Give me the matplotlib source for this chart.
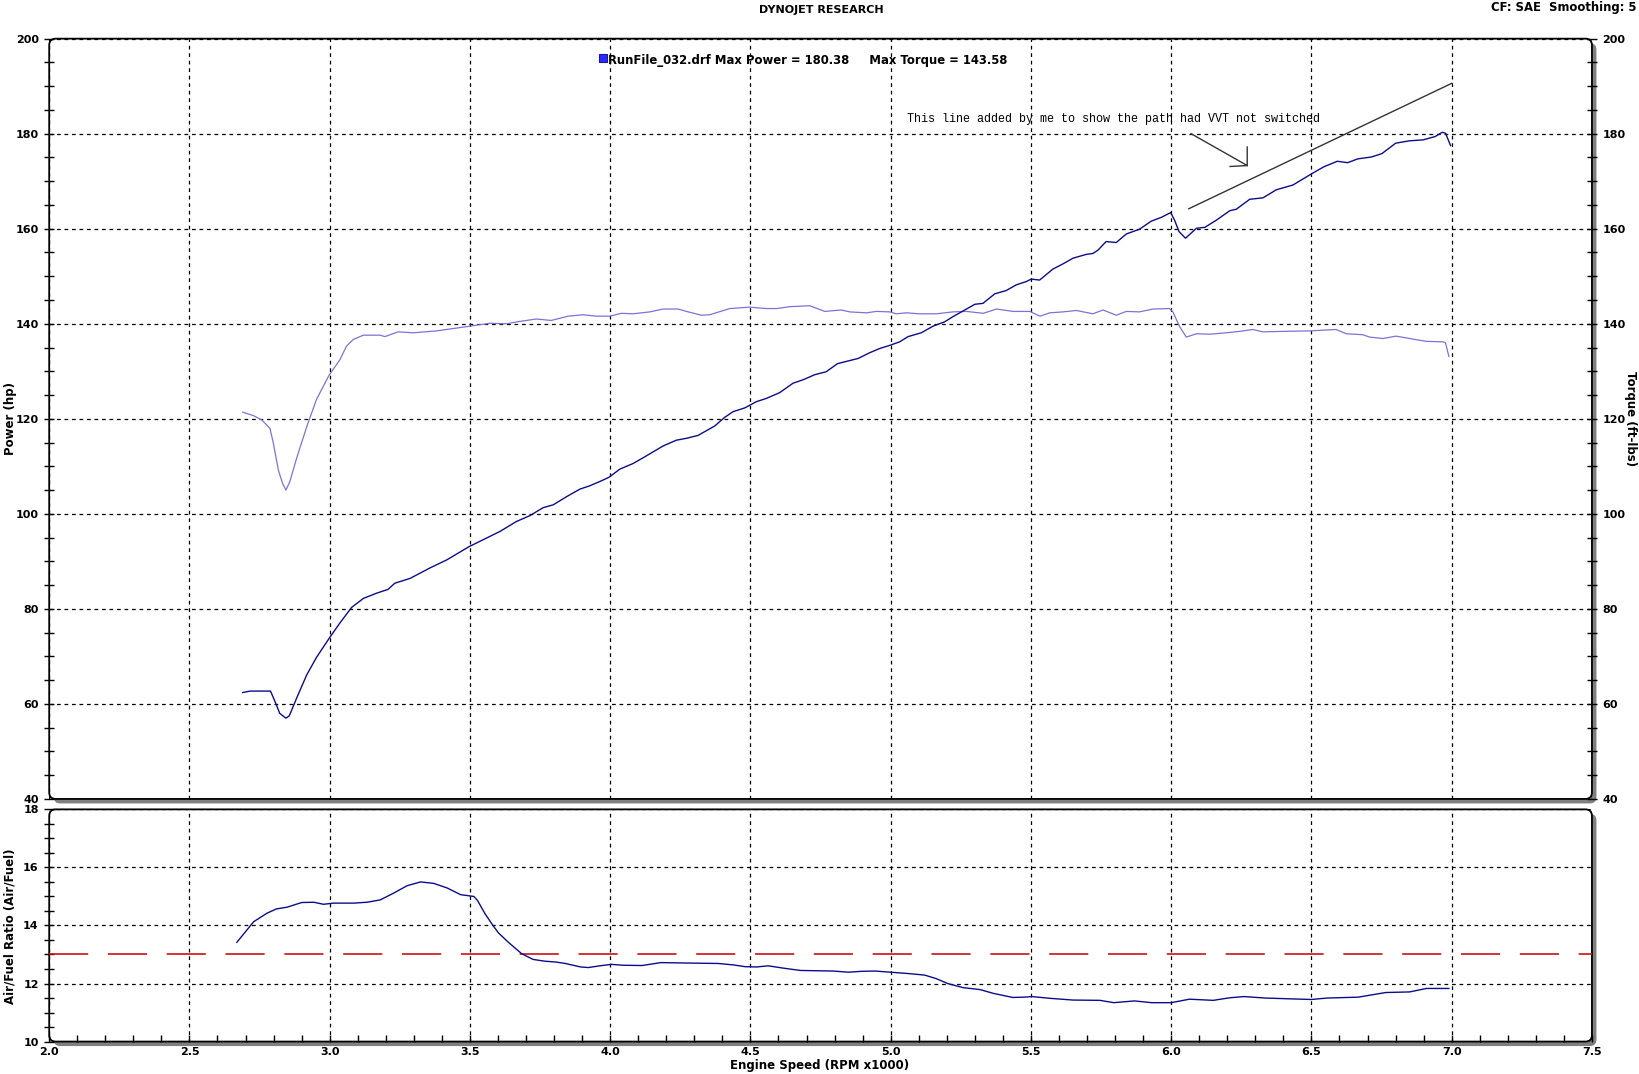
import matplotlib
matplotlib.use("Agg")
import matplotlib.pyplot as plt
from matplotlib.patches import FancyBboxPatch
from matplotlib.ticker import MultipleLocator

# ---------------- data ----------------
power_rpm = [2.69, 2.716, 2.789, 2.805, 2.822, 2.844, 2.856, 2.882, 2.918, 2.953, 2.998, 3.036,
             3.078, 3.12, 3.167, 3.208, 3.232, 3.286, 3.357, 3.417, 3.497, 3.559, 3.607, 3.666,
             3.713, 3.761, 3.797, 3.844, 3.892, 3.927, 3.963, 3.996, 4.034, 4.082, 4.129, 4.189,
             4.236, 4.272, 4.313, 4.373, 4.408, 4.438, 4.48, 4.521, 4.557, 4.604, 4.652, 4.687,
             4.73, 4.77, 4.81, 4.85, 4.884, 4.925, 4.961, 4.999, 5.032, 5.062, 5.109, 5.151,
             5.192, 5.222, 5.264, 5.3, 5.329, 5.371, 5.412, 5.448, 5.484, 5.501, 5.531, 5.578,
             5.614, 5.65, 5.697, 5.721, 5.739, 5.768, 5.804, 5.84, 5.887, 5.929, 5.965, 5.998,
             6.012, 6.028, 6.051, 6.09, 6.12, 6.161, 6.209, 6.232, 6.28, 6.327, 6.375, 6.434,
             6.493, 6.543, 6.592, 6.629, 6.665, 6.714, 6.751, 6.80, 6.849, 6.898, 6.941, 6.966,
             6.978, 6.996]
power_hp = [62.4, 62.7, 62.7, 60.5, 58.0, 57.0, 57.5, 61.2, 66.1, 69.8, 73.8, 77.0,
            80.3, 82.2, 83.3, 84.1, 85.4, 86.4, 88.6, 90.3, 93.1, 94.9, 96.3, 98.4,
            99.6, 101.3, 101.9, 103.6, 105.2, 105.9, 106.8, 107.7, 109.4, 110.6, 112.2, 114.3,
            115.5, 115.9, 116.5, 118.5, 120.3, 121.5, 122.3, 123.6, 124.3, 125.5, 127.5, 128.2,
            129.3, 129.9, 131.6, 132.2, 132.7, 133.9, 134.8, 135.5, 136.2, 137.3, 138.1, 139.5,
            140.4, 141.5, 142.9, 144.1, 144.3, 146.3, 147.0, 148.2, 148.9, 149.4, 149.2, 151.5,
            152.6, 153.8, 154.6, 154.8, 155.5, 157.3, 157.1, 158.9, 159.9, 161.6, 162.4, 163.4,
            161.8, 159.4, 158.0, 160.1, 160.3, 161.8, 163.8, 164.1, 166.2, 166.5, 168.2, 169.2,
            171.3, 173.0, 174.2, 173.9, 174.7, 175.1, 175.8, 178.0, 178.5, 178.7, 179.4, 180.3,
            180.1, 177.5]

torque_rpm = [2.69, 2.727, 2.757, 2.787, 2.799, 2.817, 2.832, 2.844, 2.858, 2.882, 2.918, 2.953,
              2.998, 3.036, 3.06, 3.084, 3.12, 3.18, 3.197, 3.244, 3.298, 3.381, 3.5, 3.571,
              3.63, 3.678, 3.737, 3.79, 3.85, 3.903, 3.951, 3.998, 4.04, 4.082, 4.141, 4.189,
              4.242, 4.272, 4.325, 4.355, 4.426, 4.497, 4.557, 4.593, 4.64, 4.676, 4.711, 4.765,
              4.824, 4.854, 4.913, 4.949, 4.996, 5.02, 5.056, 5.103, 5.163, 5.222, 5.27, 5.33,
              5.377, 5.436, 5.496, 5.532, 5.567, 5.614, 5.662, 5.721, 5.757, 5.804, 5.84, 5.887,
              5.935, 5.994, 6.006, 6.03, 6.054, 6.09, 6.137, 6.196, 6.244, 6.291, 6.327, 6.398,
              6.493, 6.588, 6.624, 6.683, 6.707, 6.755, 6.802, 6.85, 6.909, 6.969, 6.978, 6.99]
torque_ftlb = [121.4, 120.7, 119.8, 118.0, 114.9, 109.2, 106.4, 105.0, 106.8, 111.7, 118.3, 124.1,
               129.2, 132.4, 135.3, 136.7, 137.6, 137.6, 137.3, 138.3, 138.1, 138.5, 139.5, 140.1,
               140.0, 140.5, 141.0, 140.7, 141.6, 141.9, 141.6, 141.6, 142.2, 142.1, 142.5, 143.1,
               143.1, 142.6, 141.8, 141.9, 143.2, 143.5, 143.2, 143.2, 143.6, 143.7, 143.8, 142.6,
               142.9, 142.5, 142.3, 142.6, 142.5, 142.1, 142.3, 142.1, 142.1, 142.5, 142.6, 142.2,
               143.1, 142.6, 142.6, 141.6, 142.3, 142.5, 142.8, 142.1, 142.9, 141.8, 142.6, 142.5,
               143.1, 143.2, 142.5, 139.4, 137.2, 137.9, 137.8, 138.1, 138.4, 138.8, 138.3, 138.4,
               138.5, 138.8, 137.9, 137.7, 137.2, 136.9, 137.4, 136.9, 136.3, 136.2, 136.0, 133.1]

afr_rpm = [2.669, 2.729, 2.776, 2.81, 2.848, 2.90, 2.943, 2.978, 3.014, 3.086, 3.133, 3.18,
           3.229, 3.276, 3.324, 3.371, 3.419, 3.467, 3.514, 3.527, 3.554, 3.582, 3.602, 3.636,
           3.684, 3.725, 3.766, 3.807, 3.84, 3.895, 3.922, 3.963, 4.004, 4.045, 4.113, 4.181,
           4.249, 4.386, 4.44, 4.481, 4.522, 4.563, 4.617, 4.678, 4.794, 4.849, 4.896, 4.944,
           4.999, 5.067, 5.121, 5.162, 5.203, 5.257, 5.319, 5.366, 5.435, 5.476, 5.503, 5.568,
           5.65, 5.746, 5.795, 5.869, 5.93, 6.0, 6.065, 6.15, 6.21, 6.26, 6.335, 6.43,
           6.5, 6.556, 6.667, 6.765, 6.85, 6.91, 6.99]
afr_ratio = [13.42, 14.13, 14.42, 14.57, 14.63, 14.79, 14.80, 14.73, 14.77, 14.77, 14.80, 14.88,
             15.12, 15.37, 15.50, 15.45, 15.29, 15.06, 15.0, 14.86, 14.4, 14.0, 13.74, 13.43,
             13.03, 12.83, 12.77, 12.74, 12.69, 12.57, 12.55, 12.61, 12.66, 12.63, 12.62, 12.72,
             12.71, 12.69, 12.64, 12.58, 12.57, 12.61, 12.53, 12.45, 12.43, 12.39, 12.42, 12.43,
             12.39, 12.34, 12.29, 12.17, 12.0, 11.86, 11.79, 11.66, 11.52, 11.53, 11.55, 11.49,
             11.43, 11.42, 11.34, 11.40, 11.34, 11.34, 11.46, 11.42, 11.51, 11.55, 11.50, 11.47,
             11.45, 11.50, 11.53, 11.69, 11.71, 11.83, 11.83]

afr_target = 13.0

# hand-drawn annotation (straight "no VVT switch" line and arrow)
vvt_line_rpm = [6.0625, 7.0]
vvt_line_hp = [164.2, 190.6]
arrow_shaft_rpm = [6.071, 6.271]
arrow_shaft_hp = [180.0, 173.3]
arrow_head_rpm = [6.271, 6.271, 6.21]
arrow_head_hp = [177.2, 173.3, 173.1]

x_ticks = [2.0, 2.5, 3.0, 3.5, 4.0, 4.5, 5.0, 5.5, 6.0, 6.5, 7.0, 7.5]
power_ticks = [40, 60, 80, 100, 120, 140, 160, 180, 200]
afr_ticks = [10, 12, 14, 16, 18]

legend_text = "RunFile_032.drf Max Power = 180.38     Max Torque = 143.58"
note_text = "This line added by me to show the path had VVT not switched"

# ---------------- figure ----------------
W_PX, H_PX, DPI = 1640, 1074, 100
fig = plt.figure(figsize=(W_PX / DPI, H_PX / DPI), dpi=DPI)
fig.patch.set_facecolor("white")

top_rect = [0.0300, 0.2561, 0.9407, 0.7079]
bot_rect = [0.0300, 0.0302, 0.9407, 0.2162]

TICKFS = 8
POWER_C = "#0c0c8a"
TORQUE_C = "#7a74d4"
NOTE_C = "#333333"


def frame(rect):
    l, b, w, h = rect
    dx, dy = 4.5 / W_PX, 4.5 / H_PX
    asp = W_PX / H_PX
    sh = FancyBboxPatch((l + dx, b - dy), w, h,
                        boxstyle="round,pad=0,rounding_size=0.004", mutation_aspect=asp,
                        transform=fig.transFigure, fc="#808080", ec="none", zorder=-2)
    fr = FancyBboxPatch((l, b), w, h,
                        boxstyle="round,pad=0,rounding_size=0.004", mutation_aspect=asp,
                        transform=fig.transFigure, fc="white", ec="black", lw=1.3, zorder=-1)
    fig.add_artist(sh)
    fig.add_artist(fr)


frame(top_rect)
frame(bot_rect)

grid_kw = dict(color="black", linestyle=(0, (3, 3)), linewidth=0.9)

# ---- top axes ----
ax = fig.add_axes(top_rect)
ax.set_facecolor("none")
for s in ax.spines.values():
    s.set_visible(False)
ax.set_xlim(2.0, 7.5)
ax.set_ylim(40, 200)
ax.set_xticks(x_ticks)
ax.set_yticks(power_ticks)
ax.yaxis.set_minor_locator(MultipleLocator(5))
ax.grid(True, which="major", **grid_kw)
ax.tick_params(axis="x", which="both", length=0, labelbottom=False)
ax.tick_params(axis="y", which="both", direction="inout", length=7, width=1, labelsize=TICKFS,
               left=True, right=True, labelleft=True, labelright=True, pad=4)
for lab in ax.get_yticklabels():
    lab.set_fontweight("bold")

ax.plot(torque_rpm, torque_ftlb, color=TORQUE_C, lw=0.9, zorder=3)
ax.plot(power_rpm, power_hp, color=POWER_C, lw=1.0, zorder=4)
ax.plot(vvt_line_rpm, vvt_line_hp, color=NOTE_C, lw=1.0, zorder=4)
ax.plot(arrow_shaft_rpm, arrow_shaft_hp, color=NOTE_C, lw=1.0, zorder=4)
ax.plot(arrow_head_rpm, arrow_head_hp, color=NOTE_C, lw=1.0, zorder=4, solid_joinstyle="miter")

ax.text(5.057, 183.1, note_text, family=["Liberation Mono", "DejaVu Sans Mono"], fontsize=8.5,
        va="center", ha="left", color="black")

ax.plot([3.973], [195.9], marker="s", ms=5.2, mfc="#2a2aff", mec="#1a1a90", mew=0.8, ls="none",
        zorder=5, clip_on=False)
ax.text(3.991, 195.5, legend_text, fontsize=8.4, fontweight="bold", va="center", ha="left")

# ---- bottom axes ----
bx = fig.add_axes(bot_rect)
bx.set_facecolor("none")
for s in bx.spines.values():
    s.set_visible(False)
bx.set_xlim(2.0, 7.5)
bx.set_ylim(10, 18)
bx.set_xticks(x_ticks)
bx.set_xticklabels([f"{v:.1f}" for v in x_ticks], fontweight="bold")
bx.set_yticks(afr_ticks)
bx.set_yticklabels([str(v) for v in afr_ticks], fontweight="bold")
bx.xaxis.set_minor_locator(MultipleLocator(0.1))
bx.yaxis.set_minor_locator(MultipleLocator(0.5))
bx.grid(True, which="major", **grid_kw)
bx.tick_params(axis="x", which="both", direction="in", length=5, width=1, labelsize=TICKFS, pad=4)
bx.tick_params(axis="y", which="both", direction="inout", length=7, width=1, labelsize=TICKFS, pad=4)

bx.axhline(afr_target, color="#cc1111", lw=1.2, dashes=(23.5, 11.8), zorder=3)
bx.plot(afr_rpm, afr_ratio, color=POWER_C, lw=1.0, zorder=4)

# ---- texts ----
fig.text(0.5006, 0.991, "DYNOJET RESEARCH", ha="center", va="center", fontsize=8, fontweight="bold")
fig.text(0.998, 0.993, "CF: SAE  Smoothing: 5", ha="right", va="center", fontsize=8.4, fontweight="bold")
fig.text(0.0064, 0.61, "Power (hp)", rotation=90, ha="center", va="center", fontsize=8.5, fontweight="bold")
fig.text(0.9945, 0.61, "Torque (ft-lbs)", rotation=-90, ha="center", va="center", fontsize=8.5,
         fontweight="bold")
fig.text(0.0064, 0.138, "Air/Fuel Ratio (Air/Fuel)", rotation=90, ha="center", va="center", fontsize=8.5,
         fontweight="bold")
fig.text(0.5, 0.0075, "Engine Speed (RPM x1000)", ha="center", va="center", fontsize=8.5, fontweight="bold")

fig.savefig("out.png", dpi=DPI)
